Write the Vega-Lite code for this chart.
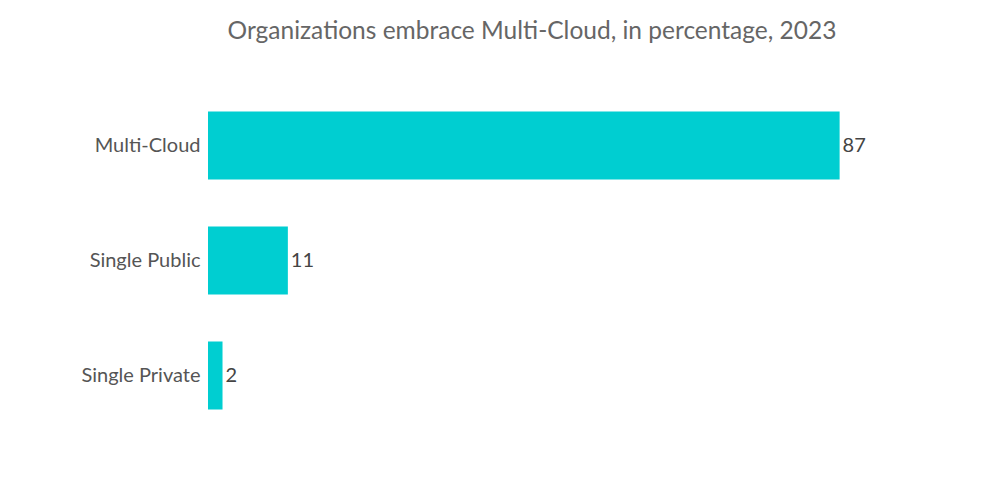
{
  "$schema": "https://vega.github.io/schema/vega-lite/v6.json",
  "width": 726,
  "height": 345,
  "padding": {"left": 208, "top": 88, "right": 0, "bottom": 0},
  "autosize": {"type": "none"},
  "background": "white",
  "title": {
    "text": "Organizations embrace Multi-Cloud, in percentage, 2023",
    "font": "Lato",
    "fontSize": 24.5,
    "fontWeight": "normal",
    "color": "#666666",
    "anchor": "middle",
    "dx": -39,
    "offset": 44
  },
  "config": {"view": {"stroke": null}},
  "data": {
    "values": [
      {"type": "Multi-Cloud", "value": 87},
      {"type": "Single Public", "value": 11},
      {"type": "Single Private", "value": 2}
    ]
  },
  "encoding": {
    "y": {
      "field": "type",
      "type": "nominal",
      "sort": null,
      "scale": {"paddingInner": 0.41, "paddingOuter": 0.205},
      "axis": {
        "title": null,
        "domain": false,
        "ticks": false,
        "labelFont": "Lato",
        "labelFontSize": 20,
        "labelColor": "#555555",
        "labelPadding": 8
      }
    },
    "x": {
      "field": "value",
      "type": "quantitative",
      "scale": {"domain": [0, 100]},
      "axis": null
    }
  },
  "layer": [
    {"mark": {"type": "bar", "color": "#00CED1"}},
    {
      "mark": {
        "type": "text",
        "align": "left",
        "dx": 3,
        "font": "Lato",
        "fontSize": 20,
        "color": "#444444"
      },
      "encoding": {"text": {"field": "value", "type": "quantitative"}}
    }
  ]
}
